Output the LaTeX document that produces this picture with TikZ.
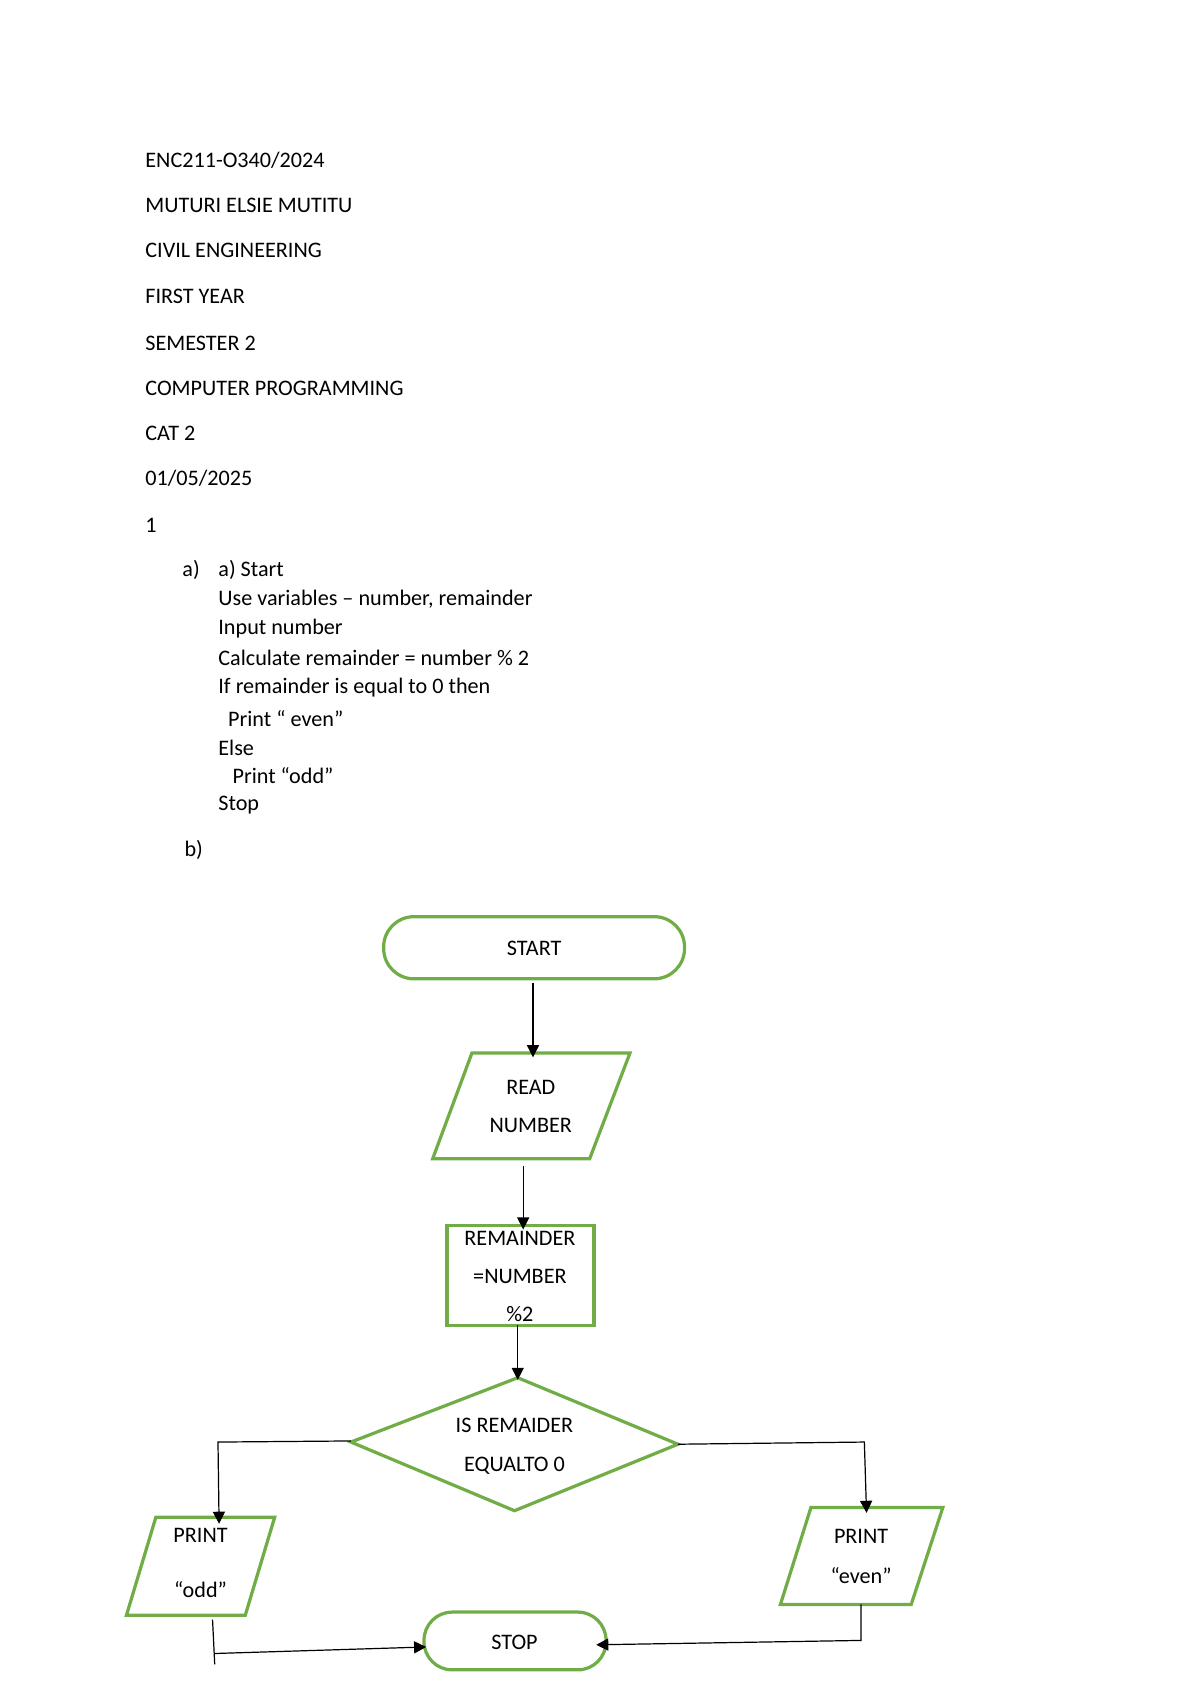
\documentclass[tikz,border=0pt]{standalone}
\usepackage{fontspec}
\setmainfont{Carlito}
\usetikzlibrary{arrows.meta}
\definecolor{gr}{HTML}{70AD47}
\begin{document}
\begin{tikzpicture}[x=0.541pt,y=-0.541pt,
  shp/.style={draw=gr,line width=1.6pt},
  txt/.style={font=\fontsize{11pt}{13pt}\selectfont,inner sep=0pt},
  lt/.style={txt,anchor=west},
  ctr/.style={txt,align=center},
  arr/.style={draw,line width=0.6pt,-{Triangle[length=6pt,width=6pt]}},
  ln/.style={draw,line width=0.6pt}]
\useasboundingbox (0,0) rectangle (1100,1556);
\foreach \t/\y [count=\i] in {{ENC211-O340/2024}/147,{MUTURI ELSIE MUTITU}/188,{CIVIL ENGINEERING}/230,{FIRST YEAR}/272,{SEMESTER 2}/315,{COMPUTER PROGRAMMING}/356,{CAT 2}/398,{01/05/2025}/439,{1}/482}
  \node[lt] (h\i) at (133,\y) {\t};
\node[lt] (la) at (167,523) {a)};
\node[lt] (l1) at (200,523) {a) Start};
\node[lt] (l2) at (200,550) {Use variables – number, remainder};
\node[lt] (l3) at (200,577) {Input number};
\node[lt] (l4) at (200,604) {Calculate remainder = number \% 2};
\node[lt] (l5) at (200,631) {If remainder is equal to 0 then};
\node[lt] (l6) at (209,659) {Print “ even”};
\node[lt] (l7) at (200,686) {Else};
\node[lt] (l8) at (213,712) {Print “odd”};
\node[lt] (l9) at (200,739) {Stop};
\node[lt] (lb) at (169,780) {b)};
% shapes
\draw[shp,rounded corners=15pt] (352,841) rectangle (628,898);
\node[ctr] (start) at (490,870) {START};
\draw[shp] (433,966) -- (578,966) -- (541,1063) -- (397,1063) -- cycle;
\node[ctr] (read) at (487,1015) {READ\\[0.55em]NUMBER};
\draw[shp] (410,1124) rectangle (545,1216);
\node[ctr] (rem) at (477,1171) {REMAINDER\\[0.55em]=NUMBER\\[0.55em]\%2};
\draw[shp] (475,1264) -- (622,1325) -- (472,1386) -- (322,1323) -- cycle;
\node[ctr] (dec) at (472,1327) {IS REMAIDER\\[0.6em]EQUALTO 0};
\draw[shp] (143,1392) -- (252,1392) -- (225,1482) -- (116,1482) -- cycle;
\node[ctr] (odd) at (184,1434) {PRINT\\[1.3em]“odd”};
\draw[shp] (744,1383) -- (865,1383) -- (836,1472) -- (716,1472) -- cycle;
\node[ctr] (even) at (790,1428) {PRINT\\[0.6em]“even”};
\draw[shp,rounded corners=14pt] (389,1479) rectangle (556,1532);
\node[ctr] (stop) at (472,1507) {STOP};
% connectors
\coordinate (sB) at (489,902); \coordinate (rT) at (489,970);
\coordinate (rB) at (480,1070); \coordinate (mT) at (480,1128);
\coordinate (mB) at (475,1216); \coordinate (dT) at (475,1266);
\coordinate (dL) at (322,1322); \coordinate (dR) at (622,1325);
\coordinate (oT) at (201,1398); \coordinate (eT) at (795,1388);
\coordinate (oB) at (195,1486); \coordinate (eB) at (790,1472);
\coordinate (stL) at (391,1511); \coordinate (stR) at (547,1509);
\draw[arr] (sB) -- (rT);
\draw[arr] (rB) -- (mT);
\draw[arr] (mB) -- (dT);
\draw[arr] (dL) -- (200,1323) -- (oT);
\draw[arr] (dR) -- (793,1323) -- (eT);
\draw[ln] (oB) -- (197,1527);
\draw[arr] (197,1517) -- (stL);
\draw[arr] (eB) -- (790,1505) -- (stR);
\end{tikzpicture}
\end{document}
